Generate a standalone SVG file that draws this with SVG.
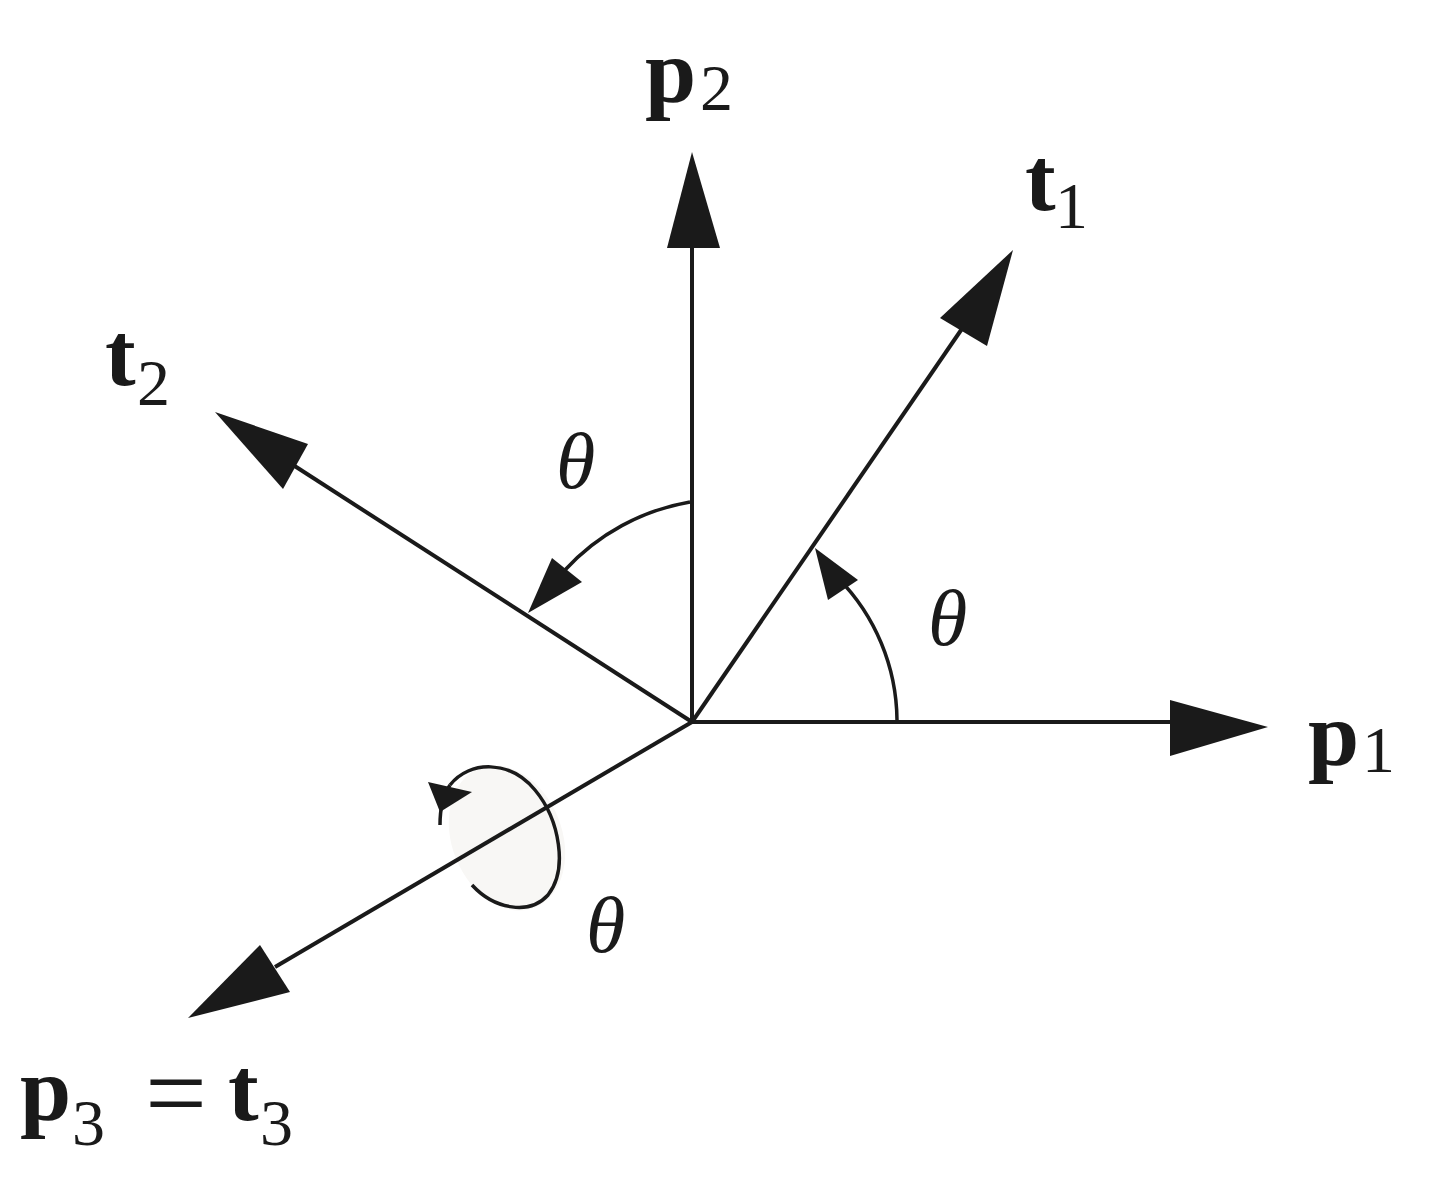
<svg xmlns="http://www.w3.org/2000/svg" width="1433" height="1203" viewBox="0 0 1433 1203">
<style>
.ax{stroke:#1a1a1a;stroke-width:4;fill:none}
.arc{stroke:#1a1a1a;stroke-width:3.5;fill:none}
.hd{fill:#1a1a1a}
text{font-family:"Liberation Serif",serif;fill:#1a1a1a}
.b{font-weight:bold;font-size:92px}
.s{font-size:66px}
.th{font-style:italic;font-size:80px}
</style>
<rect width="1433" height="1203" fill="#fff"/>
<g id="connectors">
<ellipse cx="507" cy="838" rx="55" ry="75" transform="rotate(-22 507 838)" fill="#f8f7f5" stroke="none"/>
<line class="ax" x1="692" y1="722" x2="1200" y2="722"/>
<polygon class="hd" points="1268,727 1170,700 1170,756"/>
<line class="ax" x1="692" y1="722" x2="692" y2="240"/>
<polygon class="hd" points="692,152 667,248 720,248"/>
<line class="ax" x1="692" y1="722" x2="968" y2="320"/>
<polygon class="hd" points="1013,250 940,318 987,346"/>
<line class="ax" x1="692" y1="722" x2="290" y2="463"/>
<polygon class="hd" points="215,412 283,489 308,444"/>
<line class="ax" x1="692" y1="722" x2="275" y2="967"/>
<polygon class="hd" points="188,1018 260,945 290,992"/>
<path class="arc" d="M897,720 A205,205 0 0 0 838,578"/>
<polygon class="hd" points="815,548 828,600 858,580"/>
<path class="arc" d="M690,502 A220,220 0 0 0 565,570"/>
<polygon class="hd" points="528,613 552,558 582,582"/>
<path class="arc" d="M450,785 C470,760 510,760 535,790 C560,820 568,870 548,895 C530,915 495,910 472,885"/>
<path class="arc" d="M450,785 C443,795 440,810 440,825"/>
<polygon class="hd" points="428,782 472,792 440,812"/>
</g>
<g id="labels">
<text x="645" y="102" class="b">p</text><text x="700" y="110" class="s">2</text>
<text x="1025" y="210" class="b">t</text><text x="1055" y="228" class="s">1</text>
<text x="105" y="385" class="b">t</text><text x="137" y="405" class="s">2</text>
<text x="1308" y="765" class="b">p</text><text x="1362" y="772" class="s">1</text>
<text x="20" y="1120" class="b">p</text><text x="72" y="1145" class="s">3</text>
<text x="145" y="1130" font-size="110">=</text>
<text x="228" y="1120" class="b">t</text><text x="260" y="1145" class="s">3</text>
<text x="556" y="488" class="th">θ</text>
<text x="928" y="645" class="th">θ</text>
<text x="586" y="952" class="th">θ</text>
</g>
</svg>
